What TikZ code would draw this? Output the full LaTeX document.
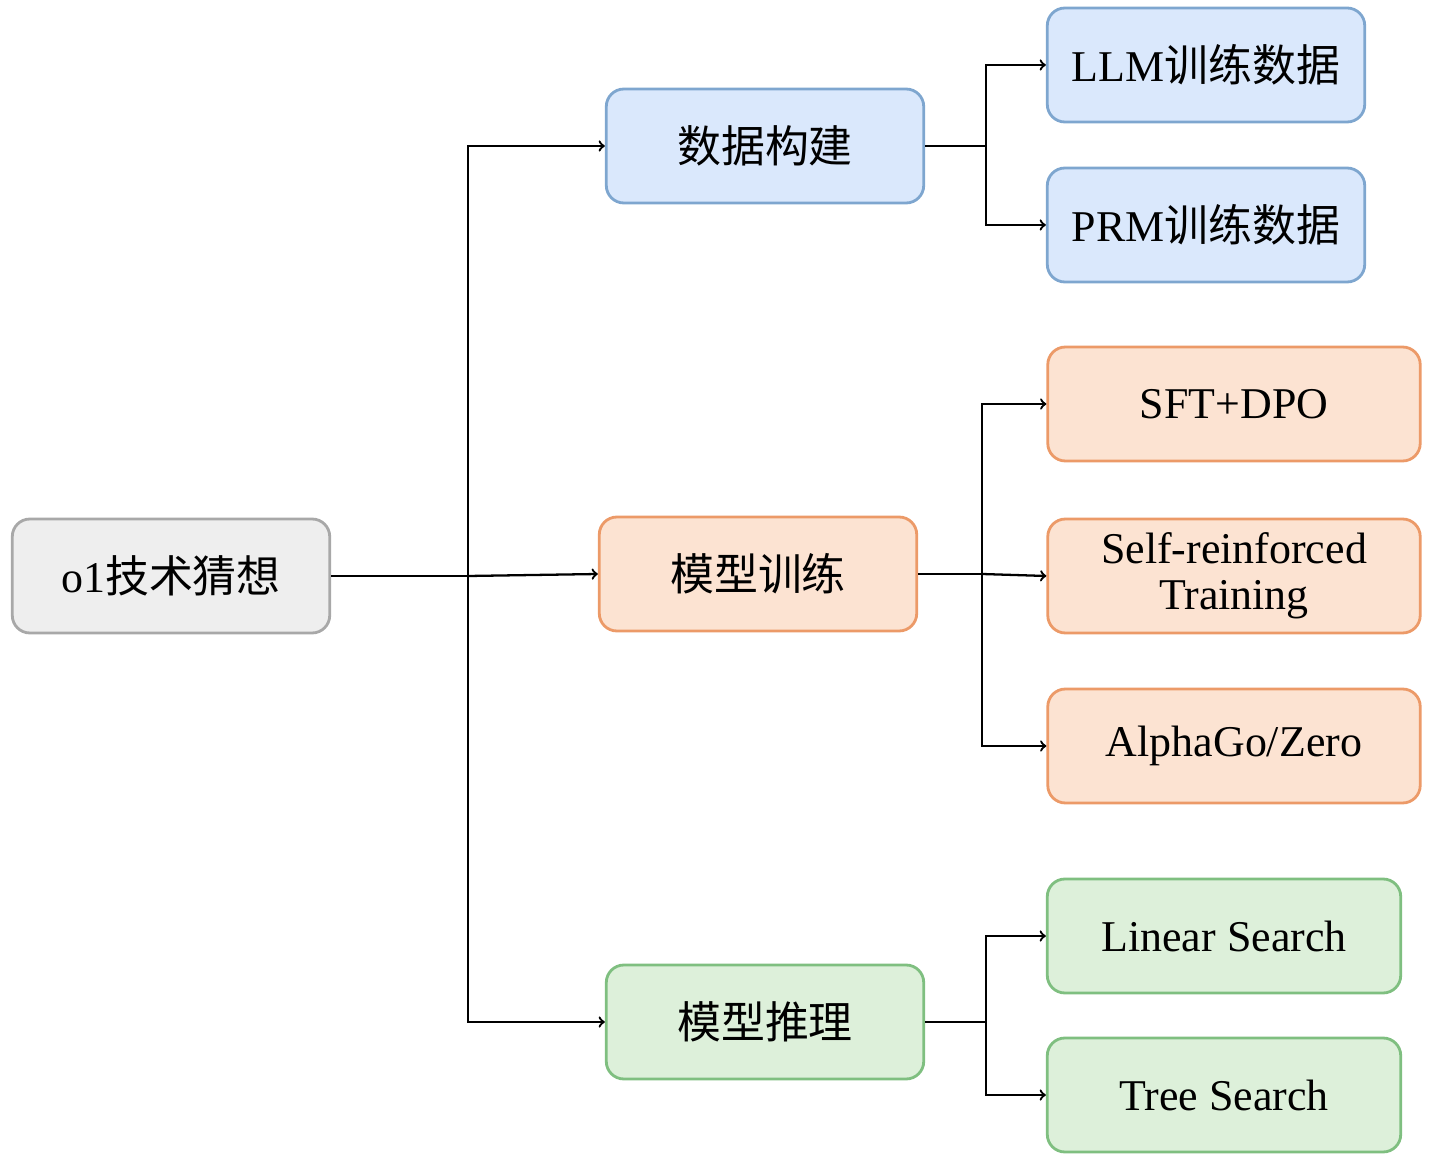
\documentclass[tikz,border=0pt]{standalone}
\usepackage{fontspec}
\setmainfont{Liberation Serif}
\newfontfamily\cjk{Noto Sans CJK SC}
\definecolor{grayF}{HTML}{EEEEEE}\definecolor{grayD}{HTML}{A8A8A8}
\definecolor{blueF}{HTML}{DAE8FC}\definecolor{blueD}{HTML}{7EA6CF}
\definecolor{orgF}{HTML}{FCE3D2}\definecolor{orgD}{HTML}{EC9A68}
\definecolor{grnF}{HTML}{DDF0DA}\definecolor{grnD}{HTML}{7FBF80}
\begin{document}
\begin{tikzpicture}[x=0.02cm,y=-0.02cm,
  box/.style={draw, rounded corners=10pt, line width=1.6pt, minimum height=2.28cm,
    align=center, font=\fontsize{25}{30}\selectfont},
  gbox/.style={box, fill=grayF, draw=grayD},
  bbox/.style={box, fill=blueF, draw=blueD},
  obox/.style={box, fill=orgF, draw=orgD},
  nbox/.style={box, fill=grnF, draw=grnD},
  link/.style={line width=1.3pt, ->, >=to}]
\useasboundingbox (0,0) rectangle (1440,1168);
\node[gbox, minimum width=6.35cm](root) at (171,576){o1{\cjk 技术猜想}};
\node[bbox, minimum width=6.35cm](data) at (765,146){\cjk 数据构建};
\node[obox, minimum width=6.35cm](train) at (758,574){\cjk 模型训练};
\node[nbox, minimum width=6.35cm](infer) at (765,1022){\cjk 模型推理};
\node[bbox, minimum width=6.35cm](llm) at (1206,65){LLM{\cjk 训练数据}};
\node[bbox, minimum width=6.35cm](prm) at (1206,225){PRM{\cjk 训练数据}};
\node[obox, minimum width=7.45cm](sft) at (1234,404){SFT+DPO};
\node[obox, minimum width=7.45cm](self) at (1234,576){Self-reinforced\\[-4pt]Training};
\node[obox, minimum width=7.45cm](alpha) at (1234,746){AlphaGo/Zero};
\node[nbox, minimum width=7.07cm](lin) at (1224,936){Linear Search};
\node[nbox, minimum width=7.07cm](tree) at (1224,1095){Tree Search};
\coordinate (t0) at (468,576);
\coordinate (t1) at (986,146);
\coordinate (t2) at (982,574);
\coordinate (t3) at (986,1022);
\draw[line width=1.3pt] (root.east) -- (t0);
\draw[link] (t0) |- (data.west);
\draw[link] (t0) -- (train.west);
\draw[link] (t0) |- (infer.west);
\draw[line width=1.3pt] (data.east) -- (t1);
\draw[link] (t1) |- (llm.west);
\draw[link] (t1) |- (prm.west);
\draw[line width=1.3pt] (train.east) -- (t2);
\draw[link] (t2) |- (sft.west);
\draw[link] (t2) -- (self.west);
\draw[link] (t2) |- (alpha.west);
\draw[line width=1.3pt] (infer.east) -- (t3);
\draw[link] (t3) |- (lin.west);
\draw[link] (t3) |- (tree.west);
\end{tikzpicture}
\end{document}
